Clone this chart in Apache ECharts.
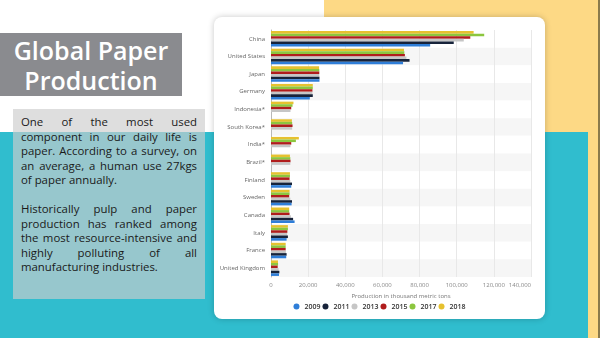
<!DOCTYPE html>
<html>
<head>
<meta charset="utf-8">
<script src="https://cdn.jsdelivr.net/npm/echarts@6/dist/echarts.min.js"></script>
<style>
  html, body { margin: 0; padding: 0; }
  body { width: 600px; height: 338px; position: relative; overflow: hidden; background: #ffffff; font-family: "Open Sans", sans-serif; }
  .yellow { position: absolute; left: 324px; top: 0; width: 274px; height: 338px; background: #fdd985; }
  .edge { position: absolute; left: 598px; top: 0; width: 2px; height: 338px; background: #8a7a4c; }
  .teal { position: absolute; left: 0; top: 132px; width: 588px; height: 206px; background: #30bdce; }
  .title { position: absolute; left: 0; top: 33px; width: 182px; height: 63px; background: #8a8b8f; color: #fff; font-weight: 600; font-size: 25px; line-height: 30px; text-align: center; padding-top: 2px; box-sizing: border-box; }
  .textbox { position: absolute; left: 13px; top: 109px; width: 192px; height: 190px; background: rgba(205,205,205,0.66); box-sizing: border-box; padding: 6px 8px 0 8px; color: #1a1a1a; font-size: 11.4px; line-height: 14.5px; text-align: justify; }
  .textbox p { margin: 0 0 14.5px 0; }
  .card { position: absolute; left: 214px; top: 17px; width: 331px; height: 302px; background: #fff; border-radius: 8px; box-shadow: 0 0 6px rgba(0,0,0,0.22); }
  #chart { position: absolute; left: 0; top: 0; width: 331px; height: 302px; }
</style>
</head>
<body>
<div class="yellow"></div>
<div class="edge"></div>
<div class="teal"></div>
<div class="title">Global Paper<br>Production</div>
<div class="textbox">
  <p>One of the most used component in our daily life is paper. According to a survey, on an average, a human use 27kgs of paper annually.</p>
  <p>Historically pulp and paper production has ranked among the most resource-intensive and highly polluting of all manufacturing industries.</p>
</div>
<div class="card"><div id="chart"></div></div>
<script>
const categories = ['China', 'United States', 'Japan', 'Germany', 'Indonesia*', 'South Korea*', 'India*', 'Brazil*', 'Finland', 'Sweden', 'Canada', 'Italy', 'France', 'United Kingdom'];
const years = ['2009', '2011', '2013', '2015', '2017', '2018'];
const v2009 = [85700, 71100, 26100, 20900, null, null, null, null, 10900, 11100, 12700, 8400, 8200, 4300];
const v2011 = [98400, 74600, 26100, 22500, null, null, null, null, 11300, 11300, 11900, 9100, 8400, 4500];
const v2013 = [103800, 72900, 26000, 22300, 10500, 11400, 10500, 10400, 10400, 10400, 10700, 8700, 8000, 4100];
const v2015 = [107300, 72100, 26000, 22300, 10900, 11600, 10900, 10500, 10000, 9800, 10000, 8800, 7900, 3600];
const v2017 = [114800, 71800, 26000, 22500, 11600, 11400, 13400, 10400, 10200, 10000, 9800, 9100, 7900, 3800];
const v2018 = [109100, 71600, 25900, 22500, 12100, 11250, 15000, 10200, 10200, 10000, 9800, 9100, 7900, 3750];
const xTicks = { min: 0, max: 140000, interval: 20000 };
const axisTitle = 'Production in thousand metric tons';

const seriesValues = { '2009': v2009, '2011': v2011, '2013': v2013, '2015': v2015, '2017': v2017, '2018': v2018 };
const colors = { '2009': '#2f7ed8', '2011': '#17233a', '2013': '#c6c6c6', '2015': '#b01c1c', '2017': '#8cc63f', '2018': '#e6c12f' };

const chart = echarts.init(document.getElementById('chart'), null, { renderer: 'canvas' });
const drawOrder = years.slice().reverse();
chart.setOption({
  animation: false,
  textStyle: { fontFamily: 'Open Sans' },
  grid: { left: 57, right: 14, top: 13, bottom: 42, containLabel: false },
  legend: {
    data: years.map(y => ({ name: y, icon: 'circle' })),
    bottom: 4,
    left: 'center',
    itemWidth: 6, itemHeight: 6, itemGap: 2,
    textStyle: { fontSize: 7, color: '#333', fontWeight: 600 }
  },
  xAxis: {
    type: 'value',
    min: xTicks.min, max: xTicks.max, interval: xTicks.interval,
    name: axisTitle, nameLocation: 'middle', nameGap: 15,
    nameTextStyle: { fontSize: 6, color: '#777' },
    axisLine: { show: false }, axisTick: { show: false },
    axisLabel: { fontSize: 6, color: '#888', margin: 5, alignMaxLabel: 'right',
      formatter: v => v.toLocaleString('en-US') },
    splitLine: { lineStyle: { color: '#e8e8e8', width: 1 } }
  },
  yAxis: {
    type: 'category', data: categories, inverse: true,
    axisLine: { show: true, lineStyle: { color: '#b8b8b8', width: 1 } },
    axisTick: { show: false },
    axisLabel: { fontSize: 6, color: '#666', margin: 6 },
    splitArea: { show: true, areaStyle: { color: ['#ffffff', '#f6f6f6'] } }
  },
  series: drawOrder.map(y => ({
    name: y, type: 'bar', data: seriesValues[y],
    itemStyle: { color: colors[y] },
    barGap: '0%', barCategoryGap: '12%'
  }))
});
</script>
</body>
</html>
